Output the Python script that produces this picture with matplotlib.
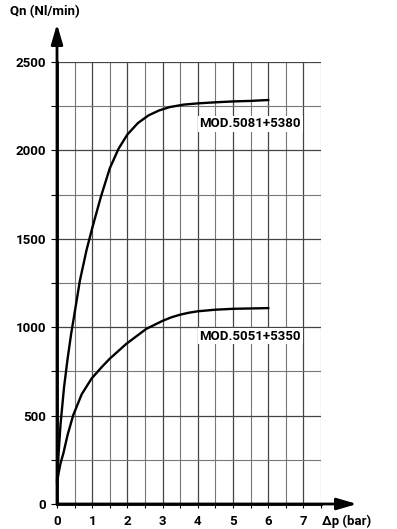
"""Flow rate Qn vs pressure drop for two valve models."""
import matplotlib
matplotlib.use("Agg")
import matplotlib.pyplot as plt
from matplotlib.ticker import MultipleLocator

plt.rcParams['font.family'] = ['Roboto', 'DejaVu Sans']

# upper curve: MOD.5081+5380
dp_5380 = [0, 0.05, 0.1, 0.2, 0.3, 0.4, 0.5, 0.65, 0.84, 1.0, 1.25, 1.5, 1.75,
           2.0, 2.3, 2.6, 2.9, 3.2, 3.6, 4.0, 4.5, 5.0, 5.5, 6.0]
qn_5380 = [135, 300, 450, 660, 820, 960, 1080, 1263, 1437, 1560, 1740, 1899, 2010,
           2090, 2155, 2198, 2226, 2245, 2259, 2266, 2272, 2277, 2280, 2285]

# lower curve: MOD.5051+5350
dp_5350 = [0, 0.05, 0.1, 0.18, 0.3, 0.46, 0.7, 0.98, 1.25, 1.5, 1.97, 2.54,
           3.0, 3.25, 3.5, 3.75, 4.0, 4.5, 5.0, 5.5, 6.0]
qn_5350 = [120, 180, 230, 286, 390, 502, 620, 709, 770, 822, 906, 991,
           1036, 1056, 1071, 1082, 1090, 1099, 1104, 1106, 1108]

x_ticks = [0, 1, 2, 3, 4, 5, 6, 7]
y_ticks = [0, 500, 1000, 1500, 2000, 2500]

W, H = 397, 529
fig = plt.figure(figsize=(W / 100, H / 100), dpi=100)
x0, x1, y0, y1 = 57, 321, 504, 62
ax = fig.add_axes([x0 / W, 1 - y0 / H, (x1 - x0) / W, (y0 - y1) / H])
ax.set_xlim(0, 7.5)
ax.set_ylim(0, 2500)

ax.xaxis.set_minor_locator(MultipleLocator(0.5))
ax.yaxis.set_minor_locator(MultipleLocator(250))
ax.set_xticks(x_ticks)
ax.set_yticks(y_ticks)
ax.grid(which='major', color='#444444', linewidth=0.9)
ax.grid(which='minor', color='#777777', linewidth=0.8)
ax.set_axisbelow(True)

for s in ['top', 'right']:
    ax.spines[s].set_visible(False)
for s in ['left', 'bottom']:
    ax.spines[s].set_linewidth(2)

ax.tick_params(which='both', direction='out', length=4, width=0.8,
               labelsize=9.5, pad=4)
ax.tick_params(axis='x', which='both', length=3, pad=5)
for lab in ax.get_xticklabels() + ax.get_yticklabels():
    lab.set_fontweight('bold')

ax.plot(dp_5380, qn_5380, color='black', linewidth=1.7, clip_on=False)
ax.plot(dp_5350, qn_5350, color='black', linewidth=1.7, clip_on=False)

box = dict(facecolor='white', edgecolor='none', pad=1)
ax.text(4.05, 2150, "MOD.5081+5380", fontsize=9.5, fontweight='bold',
        va='center', ha='left', bbox=box)
ax.text(4.05, 950, "MOD.5051+5350", fontsize=9.5, fontweight='bold',
        va='center', ha='left', bbox=box)

# axis arrows
ax.annotate('', xy=(357 / W, 1 - y0 / H), xytext=(x0 / W, 1 - y0 / H),
            xycoords='figure fraction', textcoords='figure fraction',
            arrowprops=dict(arrowstyle='-|>,head_length=1.2,head_width=0.35',
                            color='black', lw=2, shrinkA=0, shrinkB=0))
ax.annotate('', xy=(x0 / W, 1 - 24 / H), xytext=(x0 / W, 1 - y0 / H),
            xycoords='figure fraction', textcoords='figure fraction',
            arrowprops=dict(arrowstyle='-|>,head_length=1.2,head_width=0.35',
                            color='black', lw=2, shrinkA=0, shrinkB=0))

fig.text(10 / W, 1 - 12 / H, "Qn (Nl/min)", fontsize=9.5, fontweight='bold',
         va='center', ha='left')
fig.text(322 / W, 1 - 521 / H, "Δp (bar)", fontsize=9.5, fontweight='bold',
         va='center', ha='left')

fig.savefig("out.png", dpi=100)
